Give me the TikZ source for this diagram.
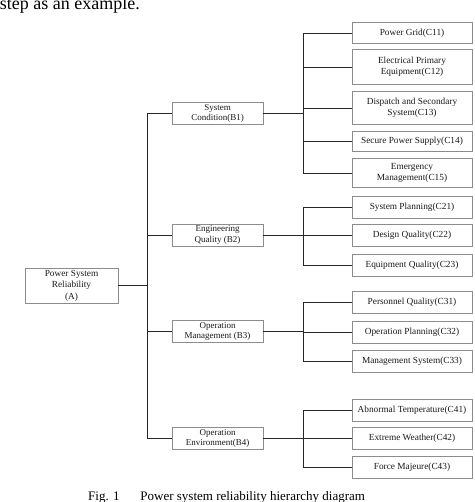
\documentclass[tikz,border=0pt]{standalone}
\usepackage{fontspec}
\setmainfont{Liberation Serif}
\begin{document}
\begin{tikzpicture}[x=1pt,y=-1pt,
  box/.style={draw=black!45, line width=0.8pt, fill=white, inner sep=0pt, align=center,
    font=\fontsize{9.3}{11.5}\selectfont, text=black!90},
  bbox/.style={box, minimum width=91pt, font=\fontsize{9}{10.3}\selectfont},
  cbox/.style={box, minimum width=120pt},
  conn/.style={draw=black!85, line width=0.75pt}]
\useasboundingbox (0,0) rectangle (474,502);
% surrounding text
\node[anchor=base east, inner sep=0pt, font=\fontsize{18}{20}\selectfont] (top) at (140,10) {step as an example.};
\node[anchor=base west, inner sep=0pt, font=\fontsize{13}{15}\selectfont] (cap) at (88,500.5) {Fig. 1\hspace{1.6em}Power system reliability hierarchy diagram};
% level A
\node[box, minimum width=93pt, minimum height=35pt] (A) at (71.5,285.5) {Power System\\Reliability\\(A)};
% level B
\node[bbox, minimum height=22pt] (B1) at (217.5,113.5) {System\\Condition(B1)};
\node[bbox, minimum height=22pt] (B2) at (217.5,235) {Engineering\\Quality (B2)};
\node[bbox, minimum height=22pt] (B3) at (217.5,331.5) {Operation\\Management (B3)};
\node[bbox, minimum height=22pt] (B4) at (217.5,438.5) {Operation\\Environment(B4)};
% level C
\node[cbox, minimum height=21pt] (C11) at (412,33) {Power Grid(C11)};
\node[cbox, minimum height=35pt] (C12) at (412,67) {Electrical Primary\\Equipment(C12)};
\node[cbox, minimum height=33pt] (C13) at (412,108) {Dispatch and Secondary\\System(C13)};
\node[cbox, minimum height=20pt] (C14) at (412,141) {Secure Power Supply(C14)};
\node[cbox, minimum height=29pt] (C15) at (412,173) {Emergency\\Management(C15)};
\node[cbox, minimum height=22pt] (C21) at (412,207) {System Planning(C21)};
\node[cbox, minimum height=22pt] (C22) at (412,235) {Design Quality(C22)};
\node[cbox, minimum height=22pt] (C23) at (412,265) {Equipment Quality(C23)};
\node[cbox, minimum height=22pt] (C31) at (412,302) {Personnel Quality(C31)};
\node[cbox, minimum height=22pt] (C32) at (412,332) {Operation Planning(C32)};
\node[cbox, minimum height=22pt] (C33) at (412,361) {Management System(C33)};
\node[cbox, minimum height=22pt] (C41) at (412,410) {Abnormal Temperature(C41)};
\node[cbox, minimum height=22pt] (C42) at (412,438.5) {Extreme Weather(C42)};
\node[cbox, minimum height=22pt] (C43) at (412,467) {Force Majeure(C43)};
% trunk coordinates
\coordinate (T) at (147,0);
\coordinate (U) at (303,0);
% A to B
\draw[conn] (A.east) -- (A.east -| T);
\draw[conn] (B1.west) -- (B1.west -| T) -- (B4.west -| T) -- (B4.west);
\draw[conn] (B2.west) -- (B2.west -| T);
\draw[conn] (B3.west) -- (B3.west -| T);
% B1 to C1x
\draw[conn] (B1.east) -- (B1.east -| U);
\draw[conn] (C11.west) -- (C11.west -| U) -- (C15.west -| U) -- (C15.west);
\draw[conn] (C12.west) -- (C12.west -| U);
\draw[conn] (C13.west) -- (C13.west -| U);
\draw[conn] (C14.west) -- (C14.west -| U);
% B2 to C2x
\draw[conn] (B2.east) -- (B2.east -| U);
\draw[conn] (C21.west) -- (C21.west -| U) -- (C23.west -| U) -- (C23.west);
\draw[conn] (C22.west) -- (C22.west -| U);
% B3 to C3x
\draw[conn] (B3.east) -- (B3.east -| U);
\draw[conn] (C31.west) -- (C31.west -| U) -- (C33.west -| U) -- (C33.west);
\draw[conn] (C32.west) -- (C32.west -| U);
% B4 to C4x
\draw[conn] (B4.east) -- (B4.east -| U);
\draw[conn] (C41.west) -- (C41.west -| U) -- (C43.west -| U) -- (C43.west);
\draw[conn] (C42.west) -- (C42.west -| U);
\end{tikzpicture}
\end{document}
